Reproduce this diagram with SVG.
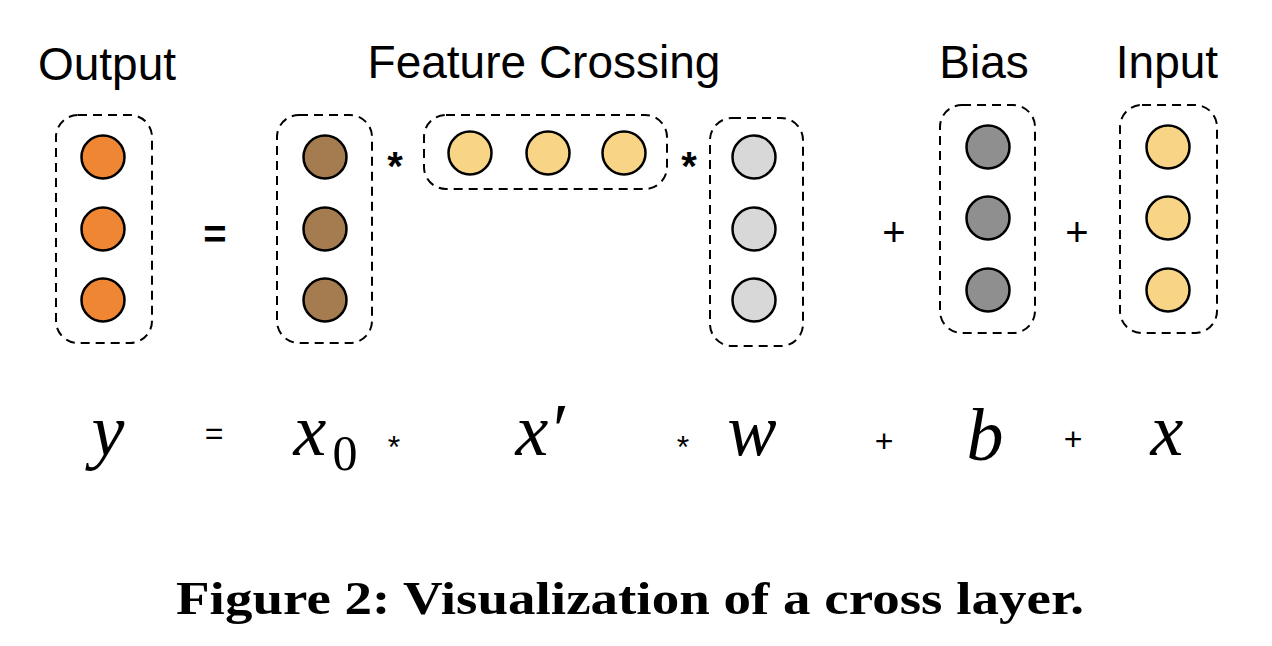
<svg xmlns="http://www.w3.org/2000/svg" width="1272" height="646" viewBox="0 0 1272 646">
<style>
.box{fill:none;stroke:#000;stroke-width:2;stroke-dasharray:9,6}
.c{stroke:#000;stroke-width:2.5}
.lbl{font-family:Helvetica,"Liberation Sans",Arial,sans-serif;font-size:46px;text-anchor:middle}
.op{font-family:"Liberation Sans",Arial,sans-serif;font-size:40px;text-anchor:middle}
.m{font-family:"Liberation Serif","DejaVu Serif",serif;font-style:italic;font-size:74px;text-anchor:middle}
.sm{font-family:"Liberation Sans",Arial,sans-serif;font-size:32px;text-anchor:middle}
</style>
<rect width="1272" height="646" fill="#fff"/>
<text class="lbl" x="107" y="80">Output</text>
<text class="lbl" x="544" y="78">Feature Crossing</text>
<text class="lbl" x="984" y="78">Bias</text>
<text class="lbl" x="1167" y="78">Input</text>
<g id="output"><rect class="box" x="56" y="115" width="96" height="228" rx="22"/>
<circle class="c" cx="103" cy="157" r="21.5" fill="#EF8633"/><circle class="c" cx="103" cy="229" r="21.5" fill="#EF8633"/><circle class="c" cx="103" cy="300" r="21.5" fill="#EF8633"/></g>
<g id="x0"><rect class="box" x="277" y="115" width="95" height="228" rx="22"/>
<circle class="c" cx="325" cy="157" r="21.5" fill="#A57C4F"/><circle class="c" cx="325" cy="229" r="21.5" fill="#A57C4F"/><circle class="c" cx="325" cy="300" r="21.5" fill="#A57C4F"/></g>
<g id="xprime"><rect class="box" x="424" y="115" width="243" height="74" rx="22"/>
<circle class="c" cx="470" cy="153" r="21.5" fill="#F8D586"/><circle class="c" cx="548" cy="153" r="21.5" fill="#F8D586"/><circle class="c" cx="624" cy="153" r="21.5" fill="#F8D586"/></g>
<g id="w"><rect class="box" x="710" y="118" width="93" height="228" rx="22"/>
<circle class="c" cx="754" cy="157" r="21.5" fill="#D8D8D8"/><circle class="c" cx="754" cy="229" r="21.5" fill="#D8D8D8"/><circle class="c" cx="754" cy="300" r="21.5" fill="#D8D8D8"/></g>
<g id="bias"><rect class="box" x="940" y="105" width="95" height="228" rx="22"/>
<circle class="c" cx="988" cy="147" r="21.5" fill="#8F8F8F"/><circle class="c" cx="988" cy="218" r="21.5" fill="#8F8F8F"/><circle class="c" cx="988" cy="290" r="21.5" fill="#8F8F8F"/></g>
<g id="input"><rect class="box" x="1120" y="105" width="97" height="228" rx="22"/>
<circle class="c" cx="1168" cy="147" r="21.5" fill="#F8D586"/><circle class="c" cx="1168" cy="218" r="21.5" fill="#F8D586"/><circle class="c" cx="1168" cy="290" r="21.5" fill="#F8D586"/></g>
<g id="connectors">
<text class="op" x="215" y="248" font-size="52" font-weight="bold">=</text>
<text class="op" x="395" y="180" font-size="44" font-weight="bold">*</text>
<text class="op" x="689" y="180" font-size="44" font-weight="bold">*</text>
<text class="op" x="894" y="246" font-size="50">+</text>
<text class="op" x="1077" y="246" font-size="50">+</text>
</g>
<text class="m" x="108" y="455">y</text>
<text class="sm" x="214" y="444">=</text>
<text class="m" x="310" y="455">x</text>
<text x="345" y="470" font-family="Liberation Serif,serif" font-size="50" text-anchor="middle">0</text>
<text class="sm" x="394" y="458">*</text>
<text class="m" x="540" y="455">x′</text>
<text class="sm" x="683" y="458">*</text>
<text class="m" x="752" y="455">w</text>
<text class="sm" x="884" y="452">+</text>
<text class="m" x="985" y="460">b</text>
<text class="sm" x="1073" y="450">+</text>
<text class="m" x="1167" y="455">x</text>
<text x="630" y="614" font-family="Liberation Serif,serif" font-weight="bold" font-size="46" text-anchor="middle" textLength="908" lengthAdjust="spacingAndGlyphs">Figure 2: Visualization of a cross layer.</text>
</svg>
